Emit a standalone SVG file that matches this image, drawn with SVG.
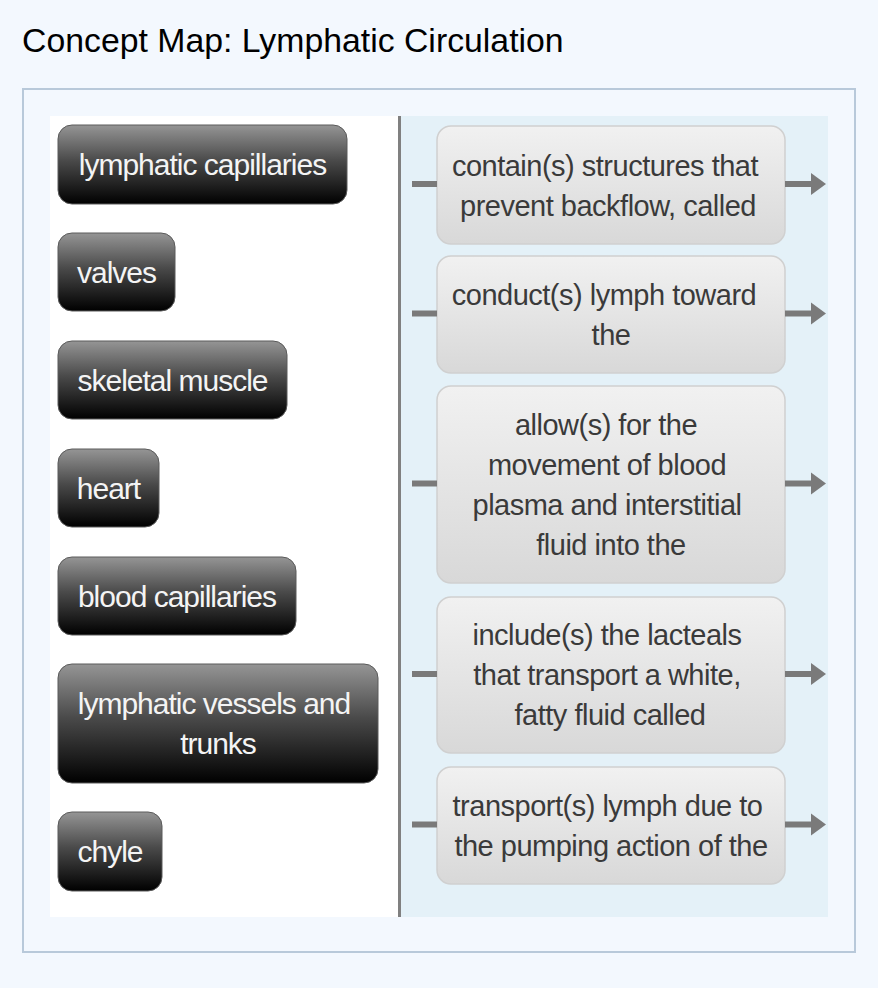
<svg xmlns="http://www.w3.org/2000/svg" width="878" height="988" viewBox="0 0 878 988">
  <defs>
    <linearGradient id="darkGrad" x1="0" y1="0" x2="0" y2="1">
      <stop offset="0" stop-color="#959595"/>
      <stop offset="0.45" stop-color="#4a4a4a"/>
      <stop offset="1" stop-color="#000000"/>
    </linearGradient>
    <linearGradient id="lightGrad" x1="0" y1="0" x2="0" y2="1">
      <stop offset="0" stop-color="#f1f1f1"/>
      <stop offset="1" stop-color="#d8d8d8"/>
    </linearGradient>
    <style>
      .title { font-family: "Liberation Sans", Arial, sans-serif; font-size: 33.8px; fill: #000; }
      .concept rect { fill: url(#darkGrad); stroke: #5a5a5a; stroke-width: 1; }
      .concept text { font-family: "Liberation Sans", Arial, sans-serif; font-size: 30px; fill: #f4f4f4; text-anchor: middle; letter-spacing: -1px; }
      .link rect { fill: url(#lightGrad); stroke: #d0d0d0; stroke-width: 1.5; }
      .link text { font-family: "Liberation Sans", Arial, sans-serif; font-size: 29px; fill: #3a3a3a; text-anchor: middle; letter-spacing: -0.5px; }
      .stub { stroke: #7a7a7a; stroke-width: 6; fill: none; }
      .head { fill: #7a7a7a; }
    </style>
  </defs>

  <rect x="0" y="0" width="878" height="988" fill="#f3f8fe"/>
  <text class="title" x="22" y="52">Concept Map: Lymphatic Circulation</text>

  <rect x="23" y="89" width="832" height="863" fill="#f3f8fe" stroke="#b8c9da" stroke-width="2"/>
  <rect x="50" y="116" width="350" height="801" fill="#ffffff"/>
  <rect x="401" y="116" width="427" height="801" fill="#e4f1f8"/>
  <rect x="398" y="116" width="3" height="801" fill="#808080"/>

  <g id="concept-lymphatic-capillaries" class="concept">
    <rect x="58" y="125" width="289" height="79" rx="14"/>
    <text x="202.5" y="175">lymphatic capillaries</text>
  </g>
  <g id="concept-valves" class="concept">
    <rect x="58" y="233" width="117" height="78" rx="14"/>
    <text x="116.5" y="282.5">valves</text>
  </g>
  <g id="concept-skeletal-muscle" class="concept">
    <rect x="58" y="341" width="229" height="78" rx="14"/>
    <text x="172.5" y="390.5">skeletal muscle</text>
  </g>
  <g id="concept-heart" class="concept">
    <rect x="58" y="449" width="101" height="78" rx="14"/>
    <text x="108.5" y="498.5">heart</text>
  </g>
  <g id="concept-blood-capillaries" class="concept">
    <rect x="58" y="557" width="238" height="78" rx="14"/>
    <text x="177" y="606.5">blood capillaries</text>
  </g>
  <g id="concept-lymphatic-vessels" class="concept">
    <rect x="58" y="664" width="320" height="119" rx="14"/>
    <text x="214" y="714">lymphatic vessels and</text>
    <text x="218" y="754">trunks</text>
  </g>
  <g id="concept-chyle" class="concept">
    <rect x="58" y="812" width="104" height="79" rx="14"/>
    <text x="110" y="862">chyle</text>
  </g>

  <g id="link-1" class="link">
    <rect x="437" y="126" width="348" height="118" rx="14"/>
    <text x="605" y="175.5">contain(s) structures that</text>
    <text x="608" y="215.5">prevent backflow, called</text>
  </g>
  <g id="link-2" class="link">
    <rect x="437" y="256" width="348" height="117" rx="14"/>
    <text x="604" y="304.5">conduct(s) lymph toward</text>
    <text x="611" y="344.5">the</text>
  </g>
  <g id="link-3" class="link">
    <rect x="437" y="386" width="348" height="197" rx="14"/>
    <text x="606" y="435">allow(s) for the</text>
    <text x="607" y="475">movement of blood</text>
    <text x="607" y="515">plasma and interstitial</text>
    <text x="611" y="555">fluid into the</text>
  </g>
  <g id="link-4" class="link">
    <rect x="437" y="597" width="348" height="156" rx="14"/>
    <text x="607" y="644.5">include(s) the lacteals</text>
    <text x="607" y="684.5">that transport a white,</text>
    <text x="610" y="724.5">fatty fluid called</text>
  </g>
  <g id="link-5" class="link">
    <rect x="437" y="767" width="348" height="117" rx="14"/>
    <text x="607.5" y="815.5">transport(s) lymph due to</text>
    <text x="611" y="855.5">the pumping action of the</text>
  </g>

  <g id="connectors">
    <line class="stub" x1="412" y1="184" x2="437" y2="184"/>
    <line class="stub" x1="785" y1="184" x2="812" y2="184"/>
    <polygon class="head" points="811,173 826,184 811,195"/>

    <line class="stub" x1="412" y1="313.5" x2="437" y2="313.5"/>
    <line class="stub" x1="785" y1="313.5" x2="812" y2="313.5"/>
    <polygon class="head" points="811,302.5 826,313.5 811,324.5"/>

    <line class="stub" x1="412" y1="483.5" x2="437" y2="483.5"/>
    <line class="stub" x1="785" y1="483.5" x2="812" y2="483.5"/>
    <polygon class="head" points="811,472.5 826,483.5 811,494.5"/>

    <line class="stub" x1="412" y1="674" x2="437" y2="674"/>
    <line class="stub" x1="785" y1="674" x2="812" y2="674"/>
    <polygon class="head" points="811,663 826,674 811,685"/>

    <line class="stub" x1="412" y1="824.5" x2="437" y2="824.5"/>
    <line class="stub" x1="785" y1="824.5" x2="812" y2="824.5"/>
    <polygon class="head" points="811,813.5 826,824.5 811,835.5"/>
  </g>
</svg>
